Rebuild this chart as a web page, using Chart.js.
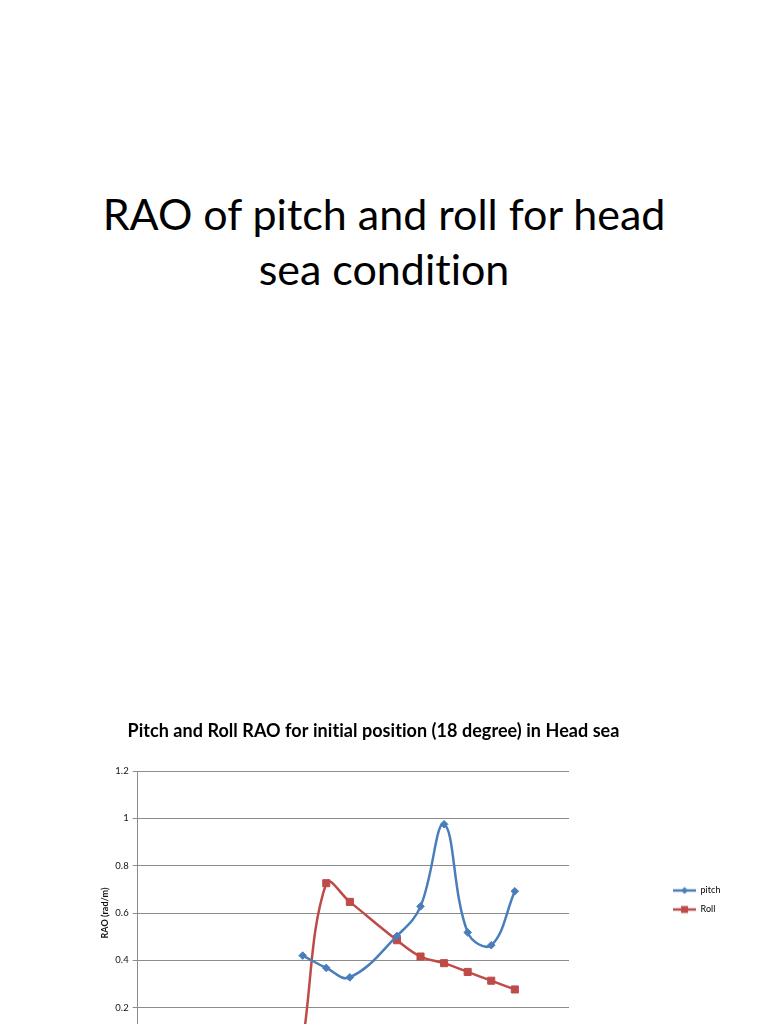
<!DOCTYPE html>
<html>
<head>
<meta charset="utf-8">
<script src="https://cdn.jsdelivr.net/npm/chart.js@4.4.1/dist/chart.umd.min.js"></script>
<style>
html,body{margin:0;padding:0;background:#fff;width:768px;height:1024px;overflow:hidden;}
#heading{position:absolute;left:0;top:186px;width:768px;text-align:center;font-family:Lato,"Open Sans",sans-serif;font-size:43px;line-height:55px;color:#000;font-variant-ligatures:none;font-feature-settings:"liga" 0,"clig" 0;}
#wrap{position:absolute;left:0;top:700px;width:768px;height:400px;}
</style>
</head>
<body>
<div id="heading">RAO of pitch and roll for head<br>sea condition</div>
<div id="wrap"><canvas id="c"></canvas></div>
<script>
// ---- data ----
const frequency = [0.7, 0.8, 0.9, 1.1, 1.2, 1.3, 1.4, 1.5, 1.6];
const pitchRAO  = [0.42, 0.368, 0.328, 0.503, 0.628, 0.975, 0.518, 0.464, 0.692];
const rollRAO   = [0.05, 0.726, 0.647, 0.485, 0.416, 0.388, 0.351, 0.314, 0.277];
const seriesNames = ['pitch', 'Roll'];
const chartTitle = 'Pitch and Roll RAO for initial position (18 degree) in Head sea';
const yTitle = 'RAO (rad/m)';
const yMin = 0, yMax = 1.2, yStep = 0.2;
const xMin = 0, xMax = 1.83;

const BLUE = '#4A7EBB';
const RED = '#BE4B48';
const GRID = '#8c8c8c';
const FONT = 'Lato, "Open Sans", sans-serif';

function legendIcon(color, kind) {
  const c = document.createElement('canvas');
  c.width = 23; c.height = 10;
  const g = c.getContext('2d');
  g.strokeStyle = color; g.lineWidth = 2.5;
  g.beginPath(); g.moveTo(0, 5); g.lineTo(23, 5); g.stroke();
  g.fillStyle = color;
  if (kind === 'diamond') {
    g.beginPath(); g.moveTo(11.5, 1.5); g.lineTo(15, 5); g.lineTo(11.5, 8.5); g.lineTo(8, 5); g.closePath(); g.fill();
  } else {
    g.fillRect(8, 1.5, 7, 7);
  }
  return c;
}
const icons = [legendIcon(BLUE, 'diamond'), legendIcon(RED, 'square')];

const toXY = (ys) => frequency.map((f, i) => ({x: f, y: ys[i]}));

// disable canvas ligatures (e.g. "ti") via a tiny letter spacing
const noLigatures = {
  id: 'noLigatures',
  beforeLayout(chart) { if ('letterSpacing' in chart.ctx) chart.ctx.letterSpacing = '0.05px'; },
  beforeDraw(chart) { if ('letterSpacing' in chart.ctx) chart.ctx.letterSpacing = '0.05px'; }
};

new Chart(document.getElementById('c'), {
  type: 'line',
  plugins: [noLigatures],
  data: {
    datasets: [
      {label: seriesNames[0], data: toXY(pitchRAO), borderColor: BLUE, backgroundColor: BLUE,
       borderWidth: 2.5, tension: 0.4, pointStyle: 'rectRot', pointRadius: 3.8,
       pointBorderWidth: 1, pointBorderColor: BLUE, pointBackgroundColor: BLUE},
      {label: seriesNames[1], data: toXY(rollRAO), borderColor: RED, backgroundColor: RED,
       borderWidth: 2.5, tension: 0.4, pointStyle: 'rect', pointRadius: 5,
       pointBorderWidth: 1, pointBorderColor: RED, pointBackgroundColor: RED}
    ]
  },
  options: {
    responsive: true,
    maintainAspectRatio: false,
    animation: false,
    devicePixelRatio: 1,
    layout: {padding: {left: 16.5, right: 37.5, top: 0, bottom: 0}},
    plugins: {
      title: {display: true, text: chartTitle, color: '#000',
        font: {family: FONT, size: 18, weight: 'bold'}, padding: {top: 20, bottom: 29.4}},
      legend: {
        position: 'right', align: 'center',
        labels: {
          usePointStyle: true, pointStyleWidth: 23, boxHeight: 9, padding: 10,
          color: '#222', font: {family: FONT, size: 9},
          generateLabels: (chart) => chart.data.datasets.map((ds, i) => ({
            text: ds.label, fillStyle: ds.borderColor, strokeStyle: ds.borderColor,
            lineWidth: 0, pointStyle: icons[i], datasetIndex: i, hidden: false
          }))
        }
      },
      tooltip: {enabled: false}
    },
    scales: {
      x: {
        type: 'linear', min: xMin, max: xMax,
        grid: {display: false},
        border: {color: GRID},
        ticks: {color: '#222', font: {family: FONT, size: 9}},
        afterFit: (s) => { s.height = 45; }
      },
      y: {
        type: 'linear', position: 'left', min: yMin, max: yMax,
        ticks: {stepSize: yStep, color: '#111', padding: 4, font: {family: FONT, size: 9.5},
          callback: (v) => String(Number(v.toFixed(1)))},
        grid: {color: GRID, lineWidth: 1, tickLength: 5, drawTicks: true},
        border: {color: GRID, width: 1},
        title: {display: true, text: yTitle, color: '#111',
          font: {family: FONT, size: 9, weight: 'bold'}, padding: {top: 83.6, bottom: 0}},
        afterFit: (s) => { s.width = 121.2; }
      },
      yR: {
        type: 'linear', position: 'right', min: 0, max: 1,
        ticks: {display: false}, grid: {display: false, drawTicks: false}, border: {display: false},
        afterFit: (s) => { s.width = 94; }
      }
    }
  }
});
</script>
</body>
</html>
